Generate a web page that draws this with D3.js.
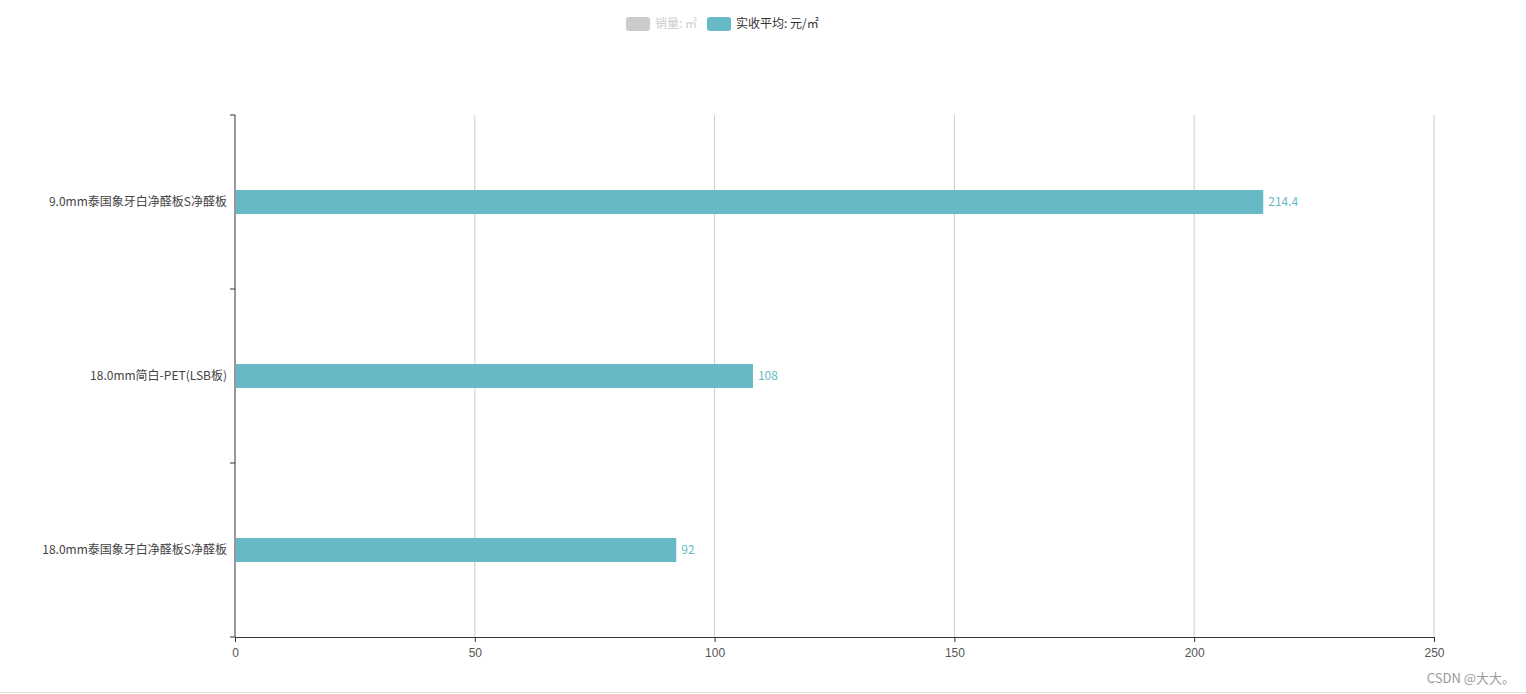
<!DOCTYPE html>
<html><head><meta charset="utf-8">
<script src="https://cdn.jsdelivr.net/npm/d3@7"></script>
<style>body{margin:0;background:#fff;font-family:"Noto Sans CJK SC","Noto Sans",sans-serif}</style>
</head><body><svg id="c" width="1526" height="694"></svg>
<script>
const categories = ["9.0mm泰国象牙白净醛板S净醛板", "18.0mm简白-PET(LSB板)", "18.0mm泰国象牙白净醛板S净醛板"];
const avgPrice = [214.4, 108, 92];
const xTicks = [0, 50, 100, 150, 200, 250];
const legendItems = [{name: "销量: ㎡", color: "#ccc", off: true}, {name: "实收平均: 元/㎡", color: "#67b9c5", off: false}];

const svg = d3.select("#c");
const m = {left: 235, right: 1434, top: 115, bottom: 637};
const x = d3.scaleLinear().domain([0, 250]).range([m.left, m.right]);
const y = d3.scaleBand().domain(categories).range([m.top, m.bottom]);

// grid
svg.append("g").selectAll("line").data(xTicks.slice(1)).enter().append("line")
  .attr("x1", d => x(d)).attr("x2", d => x(d)).attr("y1", m.top).attr("y2", m.bottom)
  .attr("stroke", "#ccc");

// x axis
const xa = svg.append("g").attr("transform", `translate(0,${m.bottom})`)
  .call(d3.axisBottom(x).tickValues(xTicks).tickSize(5).tickPadding(6));
xa.select(".domain").attr("stroke", "#333");
xa.selectAll(".tick line").attr("stroke", "#333");
xa.selectAll("text").attr("fill", "#555").style("font-size", "12px");

// y axis
const bounds = [m.top, ...categories.map(c => y(c) + y.bandwidth())];
svg.append("line").attr("x1", m.left).attr("x2", m.left).attr("y1", m.top).attr("y2", m.bottom).attr("stroke", "#333");
svg.append("g").selectAll("line").data(bounds).enter().append("line")
  .attr("x1", m.left - 5).attr("x2", m.left).attr("y1", d => d).attr("y2", d => d).attr("stroke", "#333");
svg.append("g").selectAll("text").data(categories).enter().append("text")
  .attr("x", m.left - 8).attr("y", d => y(d) + y.bandwidth() / 2).attr("dy", "0.35em")
  .attr("text-anchor", "end").attr("fill", "#444").style("font-size", "12px").text(d => d);

// bars
const bh = 24;
svg.append("g").selectAll("rect").data(avgPrice).enter().append("rect")
  .attr("x", x(0) + 1).attr("y", (d, i) => y(categories[i]) + y.bandwidth() / 2 - bh / 2)
  .attr("width", d => x(d) - x(0) - 1).attr("height", bh).attr("fill", "#67b9c5");
svg.append("g").selectAll("text").data(avgPrice).enter().append("text")
  .attr("x", d => x(d) + 5).attr("y", (d, i) => y(categories[i]) + y.bandwidth() / 2).attr("dy", "0.35em")
  .attr("fill", "#67b9c5").style("font-size", "12px").text(d => d);

// legend
const lg = svg.append("g");
let lx = 626;
legendItems.forEach(it => {
  lg.append("rect").attr("x", lx).attr("y", 17).attr("width", 24).attr("height", 14).attr("rx", 3).attr("fill", it.color);
  const t = lg.append("text").attr("x", lx + 29).attr("y", 24).attr("dy", "0.35em")
    .attr("fill", it.off ? "#ccc" : "#333").style("font-size", "12px").text(it.name);
  lx += 29 + t.node().getComputedTextLength() + 10;
});

// watermark & bottom line
svg.append("text").attr("x", 1515).attr("y", 683).attr("text-anchor", "end")
  .attr("fill", "#999").style("font-size", "13px").text("CSDN @大大。");
svg.append("line").attr("x1", 0).attr("x2", 1526).attr("y1", 692.5).attr("y2", 692.5).attr("stroke", "#ddd");
</script></body></html>
